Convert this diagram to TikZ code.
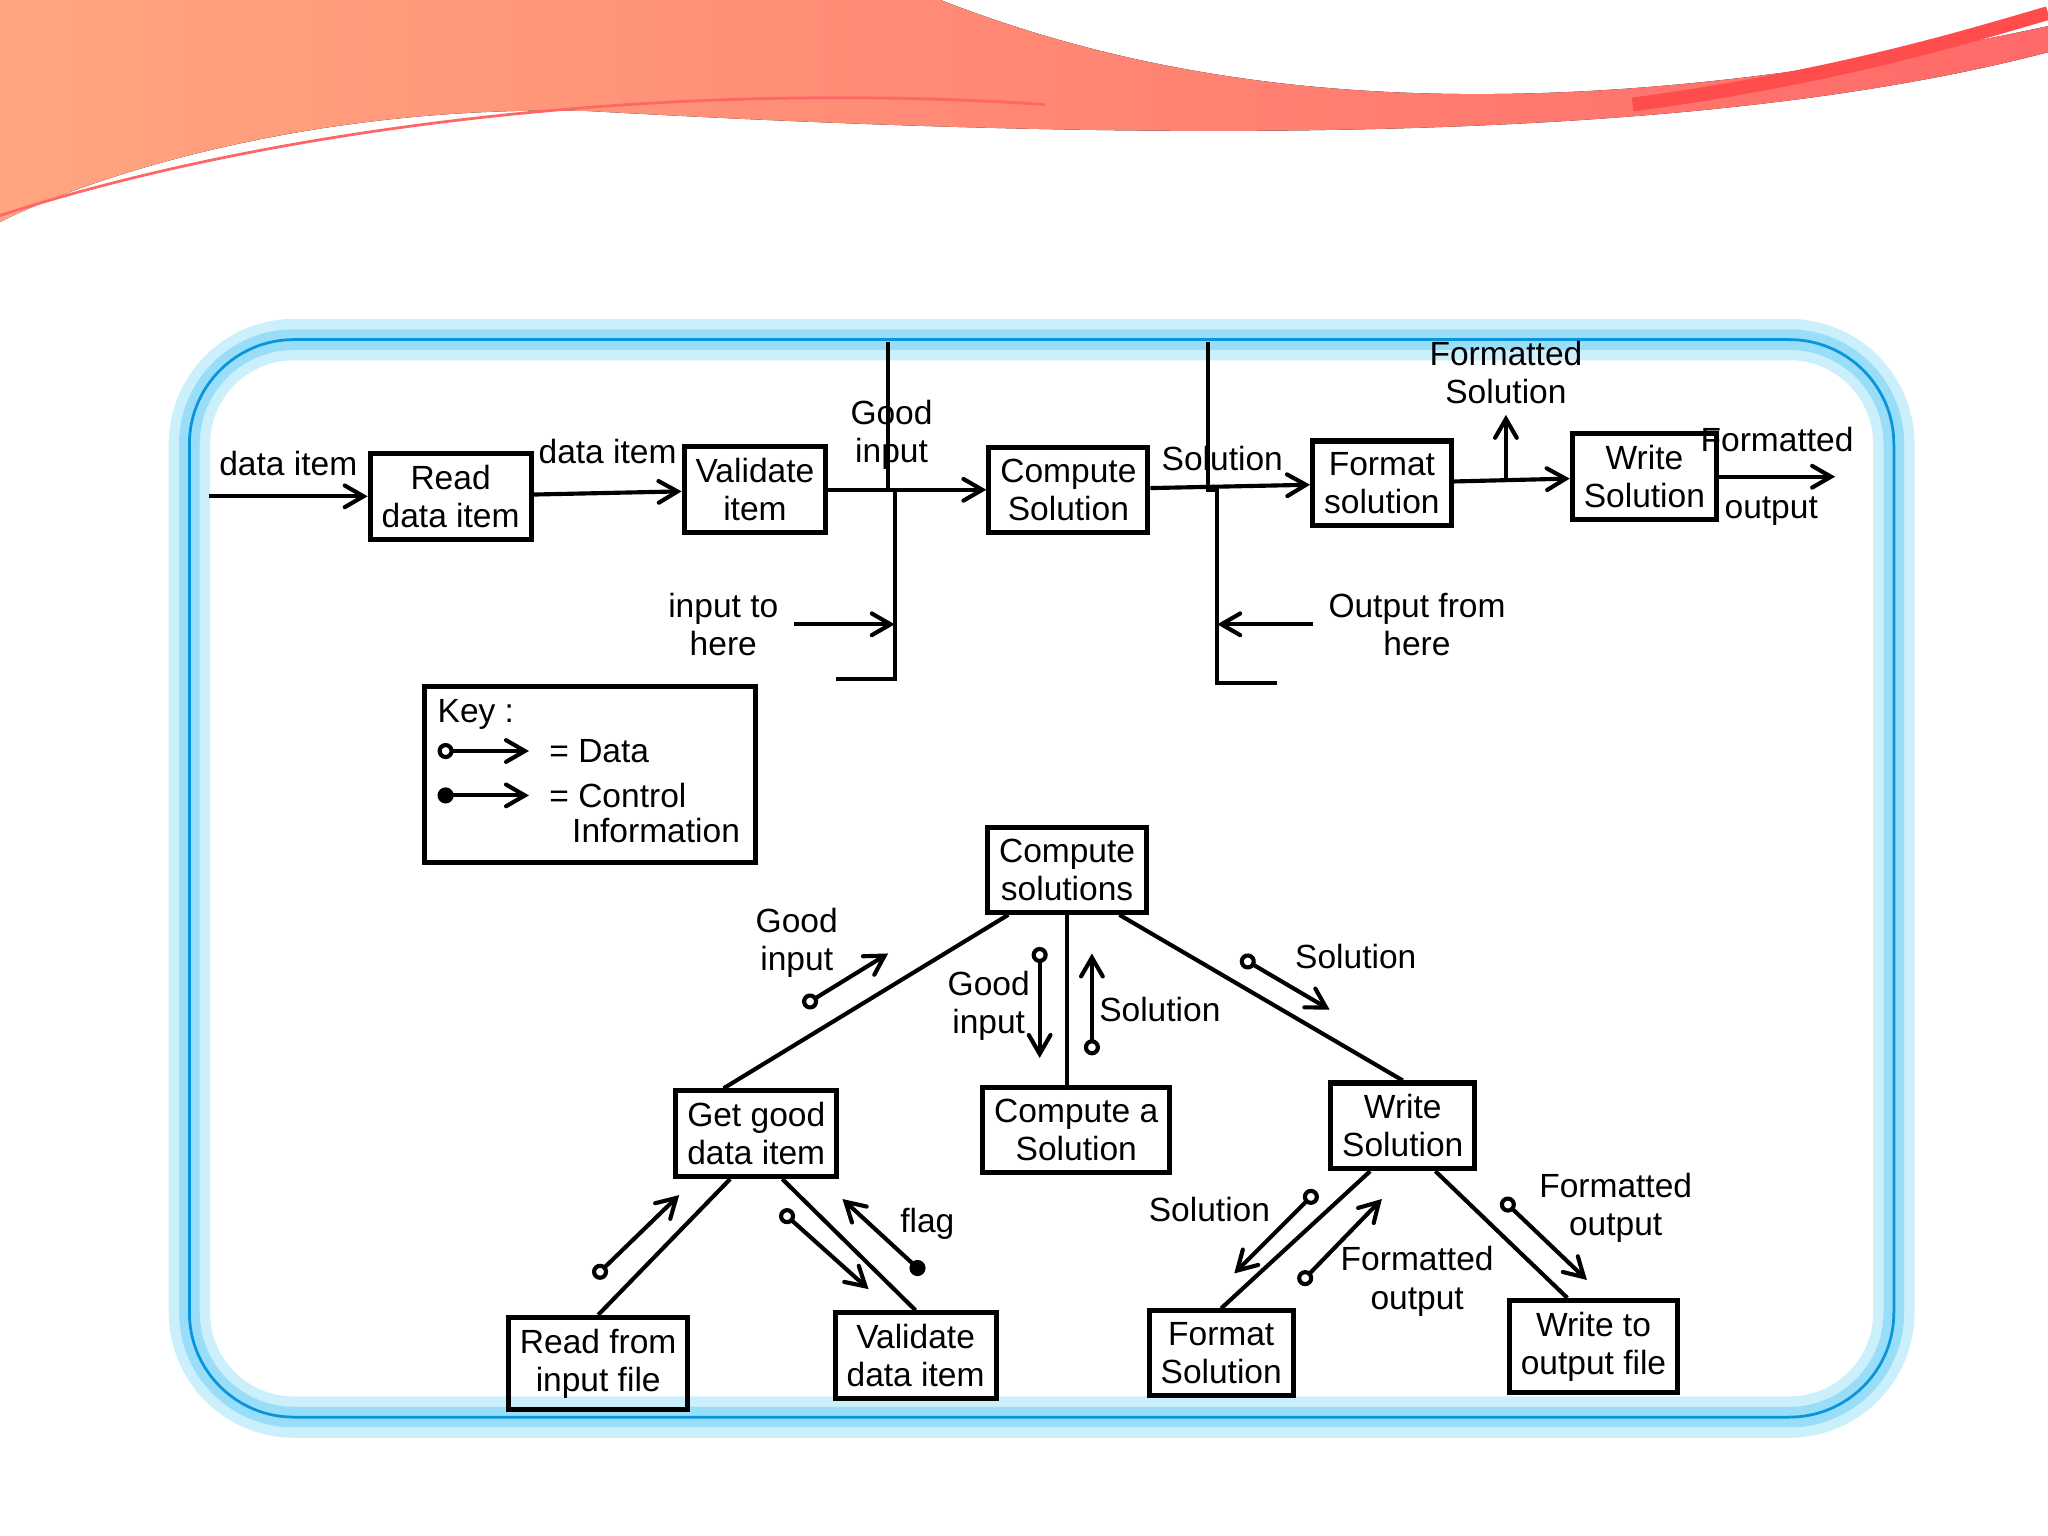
\documentclass[tikz,border=0pt]{standalone}
\usepackage{fontspec}
\setmainfont{Liberation Sans}
\usetikzlibrary{arrows,arrows.meta}
\begin{document}
\begin{tikzpicture}[x=0.01cm,y=-0.01cm,>=angle 60,line width=0.9pt]
\tikzset{box/.style={draw,rectangle,line width=1.1pt,align=center,font=\fontsize{7.3}{8.3}\selectfont,inner sep=2.5pt}}
\tikzset{lbl/.style={align=center,font=\fontsize{7.3}{8.3}\selectfont,inner sep=1pt}}
\tikzset{dat/.style={{Circle[open,length=3.5pt]}->},ctl/.style={{Circle[length=3.5pt]}->}}
\useasboundingbox (0,0) rectangle (1568,1176);
% top band
\fill[left color=orange!60!red!50,right color=red!45!pink] (0,0) -- (720,0) .. controls (900,70) and (1150,110) .. (1568,20) -- (1568,40) .. controls (1300,110) and (900,110) .. (450,85) .. controls (250,80) and (80,130) .. (0,170) -- cycle;
\draw[red!60,line width=0.6pt] (0,165) .. controls (200,100) and (500,60) .. (800,80);
\draw[red!70,line width=3pt] (1250,80) .. controls (1400,60) and (1500,30) .. (1568,10);
% frame
\draw[cyan!20,line width=9pt,rounded corners=0.8cm] (145,260) rectangle (1450,1085);
\draw[cyan!40,line width=4.5pt,rounded corners=0.8cm] (145,260) rectangle (1450,1085);
\draw[cyan!80!blue,line width=0.6pt,rounded corners=0.8cm] (145,260) rectangle (1450,1085);

% top row
\node[box] (read) at (345,380) {Read\\data item};
\node[box] (valid) at (578,375) {Validate\\item};
\node[box] (comp) at (818,375) {Compute\\Solution};
\node[box] (form) at (1058,370) {Format\\solution};
\node[box] (write) at (1259,365) {Write\\Solution};
\coordinate (in) at (160,380);
\coordinate (out) at (1405,365);
\draw[->] (in) -- (read) node[lbl,midway,above=3pt] {data item};
\draw[->] (read) -- (valid) node[lbl,midway,above=5pt] {data item};
\draw[->] (valid) -- (comp) node[lbl,pos=0.4,above=3pt] {Good\\input};
\draw[->] (comp) -- (form) node[lbl,pos=0.45,above=2pt] {Solution};
\draw[->] (form) -- (write) coordinate[pos=0.45] (br);
\draw[->] (write) -- (out) node[lbl,midway,above=4pt] {Formatted} node[lbl,pos=0.45,below=3pt] {output};
\draw[->] (br) -- ++(0,-50) node[lbl,above=1pt] {Formatted\\Solution};
% cut lines
\draw (680,262) -- (680,375) -- (685,375) -- (685,520) -- (640,520);
\draw[->] (608,478) node[lbl,left=2pt] {input to\\here} -- (685,478);
\draw (925,262) -- (925,375) -- (932,375) -- (932,523) -- (978,523);
\draw[->] (1005,478) node[lbl,right=2pt] {Output from\\here} -- (932,478);

% key
\node[draw,rectangle,line width=1.1pt,minimum width=2.53cm,minimum height=1.34cm,anchor=north west] (key) at (323,524) {};
\node[lbl,anchor=west] at (330,547) {Key :};
\draw[dat] (335,575) -- (405,575) node[lbl,right=3pt] {= Data};
\draw[ctl] (335,609) -- (405,609) node[lbl,right=3pt] {= Control};
\node[lbl,anchor=west] at (433,636) {Information};

% tree
\node[box] (cs) at (817,666) {Compute\\solutions};
\node[box] (gg) at (579,868) {Get good\\data item};
\node[box] (ca) at (824,865) {Compute a\\Solution};
\node[box] (ws) at (1074,862) {Write\\Solution};
\node[box] (rf) at (458,1044) {Read from\\input file};
\node[box] (vd) at (701,1038) {Validate\\data item};
\node[box] (fs) at (935,1036) {Format\\Solution};
\node[box] (wo) at (1220,1031) {Write to\\output file};
\draw ([xshift=-0.45cm]cs.south) -- ([xshift=-0.25cm]gg.north);
\draw (cs.south) -- (cs.south |- ca.north);
\draw ([xshift=0.4cm]cs.south) -- (ws.north);
\draw ([xshift=-0.2cm]gg.south) -- (rf.north);
\draw ([xshift=0.2cm]gg.south) -- (vd.north);
\draw ([xshift=-0.25cm]ws.south) -- (fs.north);
\draw ([xshift=0.25cm]ws.south) -- ([xshift=-0.2cm]wo.north);
% couples
\draw[dat] (615,770) -- (680,730);
\node[lbl] at (610,722) {Good\\input};
\draw[dat] (796,725) -- (796,810);
\node[lbl] at (757,770) {Good\\input};
\draw[dat] (836,808) -- (836,730);
\node[lbl] at (888,773) {Solution};
\draw[dat] (950,733) -- (1018,773);
\node[lbl] at (1038,732) {Solution};
\draw[dat] (455,978) -- (520,915);
\draw[dat] (598,927) -- (665,987);
\draw[ctl] (707,975) -- (645,918);
\node[lbl] at (710,937) {flag};
\draw[dat] (1008,912) -- (945,975);
\node[lbl] at (926,926) {Solution};
\draw[dat] (995,983) -- (1058,918);
\node[lbl] at (1085,981) {Formatted\\output};
\draw[dat] (1150,918) -- (1215,980);
\node[lbl] at (1237,925) {Formatted\\output};
\end{tikzpicture}
\end{document}
